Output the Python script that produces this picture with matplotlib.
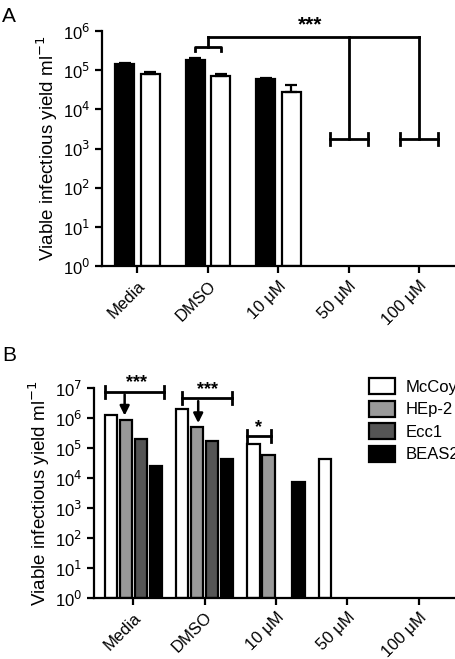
import matplotlib
matplotlib.use("Agg")
import matplotlib.pyplot as plt
import numpy as np

categories = ["Media", "DMSO", "10 \u03bcM", "50 \u03bcM", "100 \u03bcM"]
# Panel A
a_black = [1.4e5, 1.8e5, 6.0e4, 0, 0]
a_black_err = [1.2e4, 3e4, 5e3, 0, 0]
a_white = [8.0e4, 7.0e4, 2.7e4, 0, 0]
a_white_err = [8e3, 1e4, 1.4e4, 0, 0]
# Panel B
b_series = ["McCoy", "HEp-2", "Ecc1", "BEAS2b"]
b_colors = ["white", "#999999", "#555555", "black"]
b_mccoy = [1.3e6, 2.0e6, 1.35e5, 4.4e4, 0]
b_hep2 = [9.0e5, 5.2e5, 6.2e4, 0, 0]
b_ecc1 = [2.1e5, 1.7e5, 0, 0, 0]
b_beas = [2.5e4, 4.5e4, 7.6e3, 0, 0]

plt.rcParams['font.family'] = ['Liberation Sans', 'DejaVu Sans']
fig = plt.figure(figsize=(4.56, 6.59), dpi=100)
lw = 1.6

def style(ax, topexp):
    ax.set_yscale('log')
    ax.set_ylim(1, 10**topexp)
    ax.set_yticks([10**i for i in range(topexp + 1)])
    ax.set_yticklabels(["10$^{%d}$" % i for i in range(topexp + 1)])
    ax.spines['top'].set_visible(False)
    ax.spines['right'].set_visible(False)
    for s in ['left', 'bottom']:
        ax.spines[s].set_linewidth(lw)
    ax.tick_params(width=lw, length=5, labelsize=12)
    ax.minorticks_off()
    ax.set_xticks(range(5))
    ax.set_xticklabels(categories, rotation=45, ha='right', rotation_mode='anchor')
    ax.set_ylabel("Viable infectious yield ml$^{-1}$", fontsize=13.5, labelpad=2)

x = np.arange(5)
# ---- Panel A
axA = fig.add_axes([0.224, 0.596, 0.776, 0.357])
for vals, errs, off, col in [(a_black, a_black_err, -0.18, 'black'), (a_white, a_white_err, 0.18, 'white')]:
    idx = [i for i in range(5) if vals[i] > 0]
    axA.bar(x[idx] + off, [vals[i] for i in idx], width=0.27, bottom=1, color=col,
            edgecolor='black', linewidth=lw,
            yerr=[[0]*len(idx), [errs[i] for i in idx]], capsize=4,
            error_kw=dict(elinewidth=lw, capthick=lw))
axA.set_xlim(-0.5, 4.52)
style(axA, 6)
k = dict(color='black', lw=2, clip_on=False)
axA.plot([0.82, 0.82, 1.18, 1.18], [10**5.5, 10**5.6, 10**5.6, 10**5.5], **k)
axA.plot([1, 1], [10**5.6, 10**5.85], **k)
axA.plot([1, 4], [10**5.85, 10**5.85], **k)
for c in [3, 4]:
    axA.plot([c, c], [10**5.85, 10**3.25], **k)
    axA.plot([c-0.27, c+0.27], [10**3.25, 10**3.25], **k)
    axA.plot([c-0.27, c-0.27], [10**3.1, 10**3.4], **k)
    axA.plot([c+0.27, c+0.27], [10**3.1, 10**3.4], **k)
axA.text(2.45, 10**5.92, "***", ha='center', va='bottom', fontsize=15, fontweight='bold')
fig.text(0.005, 0.975, "A", fontsize=15, va='center')

# ---- Panel B
axB = fig.add_axes([0.206, 0.0926, 0.794, 0.318])
offs = [-0.315, -0.105, 0.105, 0.315]
for vals, off, col, name in zip([b_mccoy, b_hep2, b_ecc1, b_beas], offs, b_colors, b_series):
    idx = [i for i in range(5) if vals[i] > 0]
    axB.bar(x[idx] + off, [vals[i] for i in idx], width=0.17, bottom=1, color=col,
            edgecolor='black', linewidth=lw, label=name)
axB.set_xlim(-0.55, 4.52)
style(axB, 7)
def bracket(ax, x0, x1, y):
    ax.plot([x0, x1], [y, y], **k)
    for xx in (x0, x1):
        ax.plot([xx, xx], [y/1.6, y*1.6], **k)
bracket(axB, -0.39, 0.43, 10**6.89)
bracket(axB, 0.68, 1.39, 10**6.67)
bracket(axB, 1.60, 1.93, 10**5.41)
axB.annotate("", xy=(-0.12, 10**6.0), xytext=(-0.12, 10**6.89),
             arrowprops=dict(arrowstyle='-|>', color='black', lw=1.8, mutation_scale=14))
axB.annotate("", xy=(0.91, 10**5.75), xytext=(0.91, 10**6.67),
             arrowprops=dict(arrowstyle='-|>', color='black', lw=1.8, mutation_scale=14))
axB.text(0.05, 10**6.9, "***", ha='center', va='bottom', fontsize=13, fontweight='bold')
axB.text(1.04, 10**6.68, "***", ha='center', va='bottom', fontsize=13, fontweight='bold')
axB.text(1.76, 10**5.42, "*", ha='center', va='bottom', fontsize=13, fontweight='bold')
axB.legend(loc='upper left', bbox_to_anchor=(0.74, 1.08), frameon=False, fontsize=12,
           handlelength=1.6, handleheight=1.1, labelspacing=0.35, borderaxespad=0,
           handletextpad=0.6)
fig.text(0.005, 0.46, "B", fontsize=15, va='center')

fig.savefig("out.png", dpi=100)
